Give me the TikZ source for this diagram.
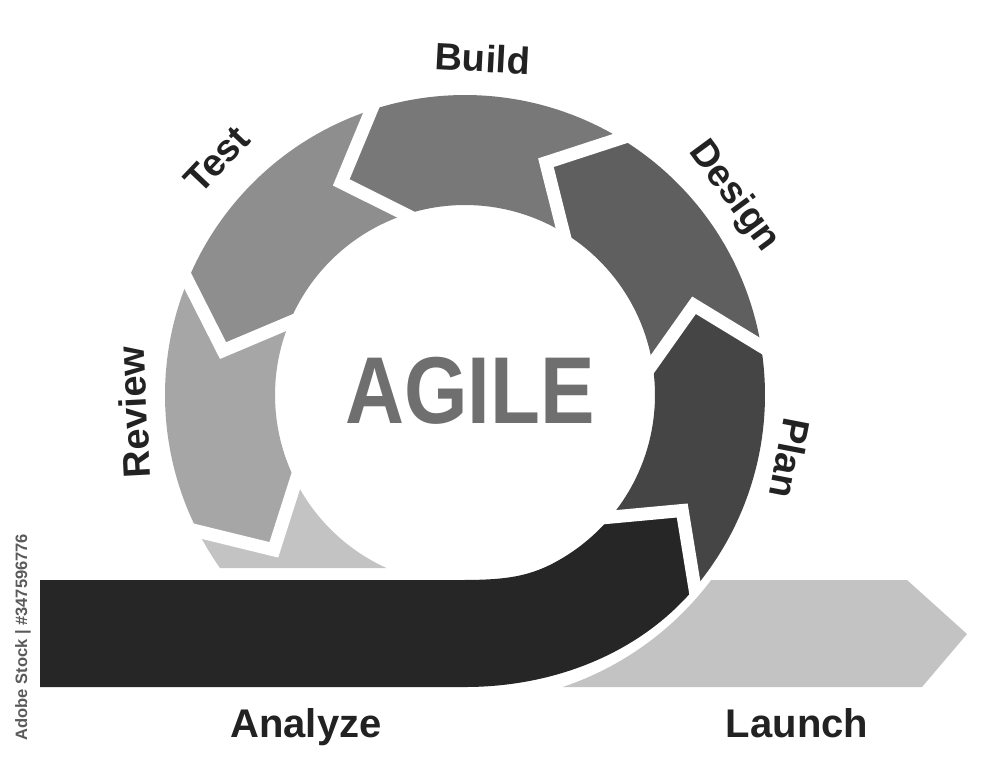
\documentclass[tikz,border=0pt]{standalone}
\usepackage{fontspec}
\setmainfont{Liberation Sans}
\newfontfamily\agilefont[FakeStretch=0.86]{Liberation Sans}
\usetikzlibrary{calc}
\definecolor{analyzec}{HTML}{262626}
\definecolor{planc}{HTML}{454545}
\definecolor{designc}{HTML}{5F5F5F}
\definecolor{buildc}{HTML}{787878}
\definecolor{testc}{HTML}{8E8E8E}
\definecolor{reviewc}{HTML}{A6A6A6}
\definecolor{lightc}{HTML}{C3C3C3}
\definecolor{labelc}{HTML}{222222}
\definecolor{agilec}{HTML}{6F6F6F}
\definecolor{wmc}{HTML}{5A5A5A}
\newcommand{\ringseg}[3]{%
  \fill[#1] (#2:300) arc[start angle=#2, end angle=#3, radius=300]
    -- ({#3-12}:246) -- (#3:190) arc[start angle=#3, end angle=#2, radius=190]
    -- ({#2-12}:246) -- cycle;}
\begin{document}
\begin{tikzpicture}[x=1pt,y=-1pt,
  gapline/.style={white, line width=13pt},
  arclbl/.style={font=\bfseries\fontsize{38pt}{40pt}\selectfont, text=labelc, inner sep=0pt},
  baselbl/.style={font=\bfseries\fontsize{40pt}{42pt}\selectfont, text=labelc, inner sep=0pt, anchor=base}]
\useasboundingbox (0,0) rectangle (1000,769);
\fill[white] (0,0) rectangle (1000,769);
\coordinate (C) at (465,395);
% ring segments
\begin{scope}[shift={(C)}]
  \ringseg{planc}{400}{350.6}
  \ringseg{designc}{350.6}{301.2}
  \ringseg{buildc}{301.2}{251.8}
  \ringseg{testc}{251.8}{202.4}
  \ringseg{reviewc}{202.4}{153}
  \fill[lightc] (153:300) -- (141:246) -- (153:190)
    arc[start angle=153, end angle=114.4, radius=190]
    -- (-245,173) arc[start angle=144.8, end angle=153, radius=300] -- cycle;
\end{scope}
% analyze band
\fill[analyzec] (40,580) -- (460,580) .. controls (505,580) and (530,577) .. (560,559.5)
  arc[start angle=60, end angle=40, radius=190]
  -- ($(C)+(28:246)$) -- ($(C)+(40:300)$)
  .. controls (638.5,654.8) and (552,687) .. (465,687) -- (40,687) -- cycle;
% white gaps between segments
\foreach \t [count=\i] in {40,350.6,301.2,251.8,202.4,153} {
  \coordinate (o\i) at ($(C)+(\t:300)$);
  \coordinate (v\i) at ($(C)+({\t-12}:246)$);
  \coordinate (n\i) at ($(C)+(\t:190)$);
  \draw[gapline] ($(v\i)!1.25!(o\i)$) -- (v\i) -- ($(v\i)!1.25!(n\i)$);
}
% launch arrow
\fill[lightc] (711,580) -- (907,580) -- (967,634) -- (922,687) -- (562.7,687)
  arc[start angle=71.5, end angle=37, radius=308] -- cycle;
% texts
\node[font=\agilefont\bfseries\fontsize{95pt}{100pt}\selectfont, text=agilec, inner sep=0pt, anchor=base] (agile) at (470,423) {AGILE};
\node[arclbl, rotate=-3] (build) at ($(C)+(-87:337)$) {Build};
\node[arclbl, rotate=-53.6] (design) at ($(C)+(-36.4:334)$) {Design};
\node[arclbl, rotate=-101] (plan) at ($(C)+(11:331)$) {Plan};
\node[arclbl, rotate=46.5] (test) at ($(C)+(-136.5:342)$) {Test};
\node[arclbl, rotate=93] (review) at ($(C)+(177:332)$) {Review};
\node[baselbl] (analyze) at (306,737) {Analyze};
\node[baselbl] (launch) at (797,737) {Launch};
\node[font=\bfseries\fontsize{16.5pt}{18pt}\selectfont, text=wmc, inner sep=0pt, rotate=90] (wm) at (23,637) {Adobe Stock | \#347596776};
\end{tikzpicture}
\end{document}
